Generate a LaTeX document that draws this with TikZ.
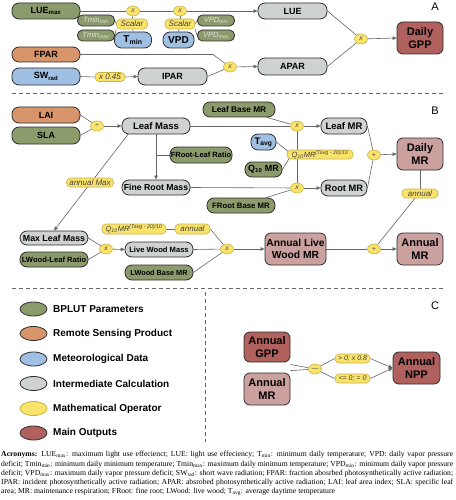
\documentclass[tikz,border=0pt]{standalone}
\usepackage{fontspec}
\setmainfont{Liberation Sans}
\newfontfamily\timesf{Liberation Serif}
\usetikzlibrary{shapes.geometric,arrows.meta,backgrounds}
\definecolor{cgreen}{HTML}{8C9B6C}
\definecolor{corange}{HTML}{D8956B}
\definecolor{cblue}{HTML}{9FBFE3}
\definecolor{cgray}{HTML}{CED3D1}
\definecolor{cyellow}{HTML}{F9E36B}
\definecolor{cdark}{HTML}{B0605D}
\definecolor{clight}{HTML}{CBA1A0}
\definecolor{cborder}{HTML}{2E2E2E}
\definecolor{cybord}{HTML}{C9B24A}
\newcommand{\sbs}[1]{\textsubscript{#1}}
\newcommand{\fs}[1]{\fontsize{#1}{#1}\selectfont}
\begin{document}
\begin{tikzpicture}[x=1pt,y=-1pt,
 base/.style={draw=cborder, line width=0.8pt, rounded corners=7pt, inner sep=0pt, align=center, font=\bfseries\fs{9}},
 sz/.style 2 args={minimum width=#1pt, minimum height=#2pt},
 gr/.style={base, fill=cgreen},
 grs/.style={base, fill=cgreen, rounded corners=5pt, font=\itshape\fs{7.5}, text=black!12},
 orn/.style={base, fill=corange},
 blu/.style={base, fill=cblue},
 gry/.style={base, fill=cgray},
 dk/.style={base, fill=cdark, rounded corners=6pt, font=\bfseries\fontsize{11}{13}\selectfont},
 lt/.style={base, fill=clight, rounded corners=6pt, font=\bfseries\fontsize{11}{13}\selectfont},
 ylab/.style={draw=cybord, fill=cyellow, line width=0.6pt, rounded corners=4pt, inner sep=0pt, font=\itshape\fs{8}, text=black!75},
 op/.style={ellipse, draw=cybord, fill=cyellow, line width=0.6pt, inner sep=0pt, minimum width=13pt, minimum height=10pt, font=\itshape\fs{7}, text=black!70},
 con/.style={draw=black!60, line width=0.6pt},
 arr/.style={con, -{Triangle[length=4pt,width=3.5pt]}},
 sep/.style={draw=black!60, line width=0.7pt, dash pattern=on 4pt off 3pt},
 leg/.style={ellipse, draw=cborder, line width=0.8pt, minimum width=27pt, minimum height=14pt, inner sep=0pt},
 legt/.style={anchor=west, inner sep=0pt, font=\bfseries\fs{10}},
 lett/.style={inner sep=0pt, font=\fs{11}},
 acr/.style={anchor=west, inner sep=0pt, font=\timesf\fs{7.7}}
]
\useasboundingbox (0,0) rectangle (455,500);
% ---------- A ----------
\node[gr, sz={68}{16}] (lumax) at (46,11) {LUE\sbs{max}};
\node[grs, sz={37}{11}] (tmin1) at (96,20.5) {Tmin\sbs{min}};
\node[grs, sz={37}{11}] (tmin2) at (96,35.5) {Tmin\sbs{max}};
\node[ylab, sz={31}{10}] (sct) at (132,24) {Scalar};
\node[op] (xt) at (133,11) {x};
\node[blu, sz={37}{16}, font=\bfseries\fs{10}] (tmin) at (133,40) {T\sbs{min}};
\node[ylab, sz={30}{10}] (scv) at (180,24) {Scalar};
\node[op] (xv) at (180,11) {x};
\node[blu, sz={31}{16}, font=\bfseries\fs{10}] (vpd) at (178.5,40) {VPD};
\node[grs, sz={37}{11}] (vpd1) at (216,20.5) {VPD\sbs{min}};
\node[grs, sz={37}{11}] (vpd2) at (216,35.5) {VPD\sbs{max}};
\node[gry, sz={69}{16}] (lue) at (292.5,11) {LUE};
\node[orn, sz={68}{15}] (fpar) at (46,54.5) {FPAR};
\node[blu, sz={68}{17}] (sw) at (46,76.5) {SW\sbs{rad}};
\node[ylab, sz={30}{9}] (x045) at (110,77) {x 0.45};
\node[gry, sz={69}{17}] (ipar) at (172.5,76.5) {IPAR};
\node[op] (xa) at (230,67) {x};
\node[gry, sz={69}{17}] (apar) at (292.5,66.5) {APAR};
\node[op] (xg) at (361,39) {x};
\node[dk, sz={46}{32}] (dgpp) at (420,38) {Daily\\GPP};
\node[lett] (la) at (435,7) {A};
% ---------- B ----------
\node[orn, sz={68}{16}] (lai) at (46,115) {LAI};
\node[gr, sz={68}{17}] (sla) at (46,135.5) {SLA};
\node[op] (div) at (97,126) {\char"00F7};
\node[gry, sz={68}{16}, font=\bfseries\fs{9.5}] (leafmass) at (156,126) {Leaf Mass};
\node[gr, sz={72}{15}, font=\bfseries\fs{8.3}] (leafbase) at (239,109.5) {Leaf Base MR};
\node[op] (xl) at (297,126) {x};
\node[gry, sz={46}{16}, font=\bfseries\fs{9.5}] (leafmr) at (344,126) {Leaf MR};
\node[gr, sz={62}{16}, font=\bfseries\fs{7.5}] (frootratio) at (201,155) {FRoot-Leaf Ratio};
\node[gry, sz={68}{15}, font=\bfseries\fs{8.7}] (frootmass) at (156,187.5) {Fine Root Mass};
\node[gr, sz={68}{15}, font=\bfseries\fs{7.8}] (frootbase) at (241,205.5) {FRoot Base MR};
\node[op] (xr) at (297,188) {x};
\node[gry, sz={46}{16}, font=\bfseries\fs{9.3}] (rootmr) at (344,188) {Root MR};
\node[blu, sz={25}{16}, font=\bfseries\fs{9.5}] (tavg) at (263.5,142) {T\sbs{avg}};
\node[gr, sz={37}{15}, font=\bfseries\fs{9}] (q10mr) at (263.5,169.5) {Q\sbs{10} MR};
\node[ylab, sz={66}{9}, font=\itshape\fs{7.5}] (q10a) at (320,154.5) {Q\sbs{10}MR\textsuperscript{(Tavg - 20)/10}};
\node[op] (plus1) at (374,155) {+};
\node[lt, sz={46}{32}] (dailymr) at (420,154) {Daily\\MR};
\node[ylab, sz={36}{9}] (annual1) at (420,193.5) {annual};
\node[ylab, sz={47}{9}] (annmax) at (90,182.5) {annual Max};
\node[gry, sz={68}{14}, font=\bfseries\fs{8.8}] (maxleaf) at (54,238) {Max Leaf Mass};
\node[gr, sz={68}{15}, font=\bfseries\fs{7.6}] (lwoodratio) at (54,259.5) {LWood-Leaf Ratio};
\node[op] (xw) at (106,249) {x};
\node[gry, sz={68}{15}, font=\bfseries\fs{7.6}] (livewood) at (159,249.5) {Live Wood Mass};
\node[gr, sz={68}{15}, font=\bfseries\fs{7.3}] (lwoodbase) at (159,272.5) {LWood Base MR};
\node[ylab, sz={64}{10}, font=\itshape\fs{7.5}] (q10b) at (134,229) {Q\sbs{10}MR\textsuperscript{(Tavg - 20)/10}};
\node[ylab, sz={35}{10}] (annual2) at (192.5,229) {annual};
\node[op] (xlw) at (227,249) {x};
\node[lt, sz={61}{32}, font=\bfseries\fontsize{10.3}{12.5}\selectfont] (annlw) at (295.5,249) {Annual Live\\Wood MR};
\node[op] (plus2) at (374,249) {+};
\node[lt, sz={46}{32}] (annmr) at (420,249) {Annual\\MR};
\node[lett] (lb) at (435,111) {B};
% ---------- C ----------
\node[dk, sz={46}{30}] (agpp) at (267,347) {Annual\\GPP};
\node[lt, sz={46}{32}] (amr) at (267,389) {Annual\\MR};
\node[op, font=\fs{7}] (minus) at (315,369) {---};
\node[ylab, sz={35}{9}, font=\itshape\fs{7}] (gt) at (352.5,358.5) {> 0; x 0.8};
\node[ylab, sz={35}{9}, font=\itshape\fs{7}] (le) at (352.5,378.5) {<= 0; = 0};
\node[dk, sz={47}{32}] (anpp) at (416.5,368) {Annual\\NPP};
\node[lett] (lc) at (435,306) {C};
% ---------- legend ----------
\node[leg, fill=cgreen] (lg1) at (33.5,309) {};
\node[legt] (lgt1) at (53,309) {BPLUT Parameters};
\node[leg, fill=corange] (lg2) at (33.5,333.5) {};
\node[legt] (lgt2) at (53,333.5) {Remote Sensing Product};
\node[leg, fill=cblue] (lg3) at (33.5,359) {};
\node[legt] (lgt3) at (53,359) {Meteorological Data};
\node[leg, fill=cgray] (lg4) at (33.5,383.5) {};
\node[legt] (lgt4) at (53,383.5) {Intermediate Calculation};
\node[leg, fill=cyellow, draw=cybord] (lg5) at (33.5,408.5) {};
\node[legt] (lgt5) at (53,408.5) {Mathematical Operator};
\node[leg, fill=cdark] (lg6) at (33.5,433) {};
\node[legt] (lgt6) at (53,433) {Main Outputs};
% ---------- acronyms ----------
\node[acr] (ac1) at (1,455) {\makebox[452pt][s]{\textbf{Acronyms:} LUE\sbs{max}: maximum light use effecienct; LUE: light use effeciency; T\sbs{min}: minimum daily temperature; VPD: daily vapor pressure}};
\node[acr] (ac2) at (1,464.3) {\makebox[452pt][s]{deficit; Tmin\sbs{min}: minimum daily minimum temperature; Tmin\sbs{max}: maximum daily minimum temperature; VPD\sbs{min}: minimum daily vapor pressure}};
\node[acr] (ac3) at (1,473.6) {\makebox[452pt][s]{deficit; VPD\sbs{max}: maximum daily vapor pressure deficit; SW\sbs{rad}: short wave radiation; FPAR: fraction abosrbed photosynthetically active radiation;}};
\node[acr] (ac4) at (1,483) {\makebox[452pt][s]{IPAR: incident photosynthetically active radiation; APAR: absrobed photosynthetically active radiation; LAI: leaf area index; SLA: specific leaf}};
\node[acr] (ac5) at (1,492.3) {area; MR: maintenance respiration; FRoot: fine root; LWood: live wood; T\sbs{avg}: average daytime temperature};
% ---------- connectors ----------
\begin{pgfonlayer}{background}
\draw[sep] (12,93) -- (443,93);
\draw[sep] (12,288) -- (443,288);
\draw[sep] (205,292) -- (205,442);
% A
\draw[con] (lumax.east) -- (xt);
\draw[con] (xt) -- (xv);
\draw[arr] (xv) -- (lue.west);
\draw[con] (sct) -- (xt);
\draw[con] (scv) -- (xv);
\draw[con] (tmin.north) -- (sct);
\draw[con] (vpd.north) -- (scv);
\draw[con] (tmin1.east) -- (sct.west);
\draw[con] (tmin2.east) -- (sct.south west);
\draw[con] (vpd1.west) -- (scv.east);
\draw[con] (vpd2.west) -- (scv.south east);
\draw[con] (fpar.east) -- (213,54.5) -- (xa);
\draw[con] (sw.east) -- (x045.west);
\draw[arr] (x045.east) -- (ipar.west);
\draw[con] (ipar.east) -- (xa);
\draw[arr] (xa) -- (apar.west);
\draw[con] (lue.east) -- (xg);
\draw[con] (apar.east) -- (xg);
\draw[arr] (xg) -- (dgpp.west);
% B
\draw[con] (lai.east) -- (div);
\draw[con] (sla.east) -- (div);
\draw[arr] (div) -- (leafmass.west);
\draw[con] (leafmass.east) -- (xl);
\draw[con] (leafbase) -- (xl);
\draw[arr] (xl) -- (leafmr.west);
\draw[arr] (leafmass.south) -- (frootmass.north);
\draw[con] (frootratio.west) -- (156,155);
\draw[con] (frootmass.east) -- (xr);
\draw[con] (frootbase) -- (xr);
\draw[arr] (xr) -- (rootmr.west);
\draw[con] (xl) -- (xr);
\draw[con] (tavg.east) -- (290,153);
\draw[con] (q10mr.east) -- (290,157);
\draw[con] (leafmr.east) -- (plus1);
\draw[con] (rootmr.east) -- (plus1);
\draw[arr] (plus1) -- (dailymr.west);
\draw[con] (dailymr.south) -- (annual1.north);
\draw[con] ([xshift=-5pt]annual1.south) -- (plus2);
\draw[arr] ([xshift=-28pt]leafmass.south) -- (maxleaf.north);
\draw[con] (maxleaf.east) -- (xw);
\draw[con] (lwoodratio.east) -- (xw);
\draw[arr] (xw) -- (livewood.west);
\draw[con] (livewood.east) -- (xlw);
\draw[con] (lwoodbase.east) -- (xlw);
\draw[con] (q10b.east) -- (annual2.west);
\draw[con] (annual2.east) -- (xlw);
\draw[arr] (xlw) -- (annlw.west);
\draw[con] (annlw.east) -- (plus2);
\draw[arr] (plus2) -- (annmr.west);
% C
\draw[con] ([yshift=-2pt]agpp.south east) -- (minus);
\draw[con] ([yshift=2pt]amr.north east) -- (minus);
\draw[con] (minus) -- (gt.west);
\draw[arr] (gt.east) -- (anpp.west);
\draw[con] (minus) -- (le.west);
\draw[arr] (le.east) -- (anpp.west);
\end{pgfonlayer}
\end{tikzpicture}
\end{document}
